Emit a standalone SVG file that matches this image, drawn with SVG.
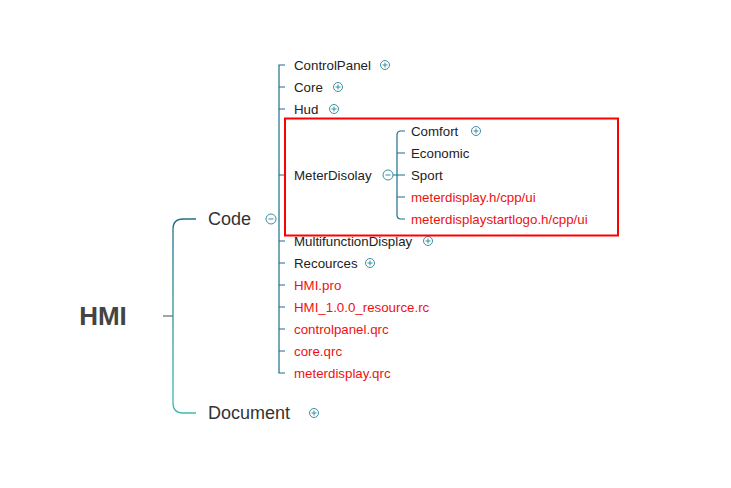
<svg xmlns="http://www.w3.org/2000/svg" width="731" height="488" viewBox="0 0 731 488">
<defs>
<linearGradient id="g" x1="0" y1="0" x2="0" y2="1"><stop offset="0" stop-color="#1d6f8c"/><stop offset="1" stop-color="#3dbdb0"/></linearGradient>
<g id="plus"><circle r="4.5" fill="#fff" stroke="#3a8fa0" stroke-width="1"/><path d="M-2.5 0H2.5M0 -2.5V2.5" stroke="#3a8fa0" stroke-width="1"/></g>
<g id="minus"><circle r="5" fill="#fff" stroke="#3a8fa0" stroke-width="1"/><path d="M-2.5 0H2.5" stroke="#3a8fa0" stroke-width="1"/></g>
</defs>
<style>
text{font-family:"Liberation Sans","Noto Sans",sans-serif;fill:#222;}
.s{font-size:13.3px;}
.r{fill:#ee1111;}
.l{fill:none;stroke:#1d6f8c;stroke-width:1.2;}
</style>
<rect width="731" height="488" fill="#fff"/>
<g id="connectors">
<path d="M163 316H173" stroke="#666" stroke-width="1.2" fill="none"/>
<path d="M196 219H183Q173 219 173 229V403Q173 413 183 413H196" fill="none" stroke="url(#g)" stroke-width="1.3"/>
<path class="l" d="M285 65H279V373H285M279 87H285M279 109H285M279 175H285M279 241H285M279 263H285M279 285H285M279 307H285M279 329H285M279 351H285"/>
<path class="l" d="M393 175H405M405 131H401Q397 131 397 135V215Q397 219 401 219H405M397 153H405M397 197H405"/>
</g>
<g id="hmi"><text x="103" y="325" text-anchor="middle" font-size="26" font-weight="bold" style="fill:#444">HMI</text></g>
<g id="code"><text x="208" y="225" font-size="18" style="fill:#333">Code</text><use href="#minus" x="271" y="219"/></g>
<g id="document"><text x="208" y="419" font-size="18" style="fill:#333">Document</text><use href="#plus" x="314" y="413"/></g>
<g id="controlpanel"><text class="s" x="294" y="70">ControlPanel</text><use href="#plus" x="385" y="65"/></g>
<g id="core"><text class="s" x="294" y="92">Core</text><use href="#plus" x="338" y="87"/></g>
<g id="hud"><text class="s" x="294" y="114">Hud</text><use href="#plus" x="334" y="109"/></g>
<g id="meter"><text class="s" x="294" y="180">MeterDisolay</text><use href="#minus" x="388" y="175"/></g>
<g id="comfort"><text class="s" x="411" y="136">Comfort</text><use href="#plus" x="476" y="131"/></g>
<g id="economic"><text class="s" x="411" y="158">Economic</text></g>
<g id="sport"><text class="s" x="411" y="180">Sport</text></g>
<g id="mdh"><text class="s r" x="411" y="202">meterdisplay.h/cpp/ui</text></g>
<g id="mdsl"><text class="s r" x="411" y="224">meterdisplaystartlogo.h/cpp/ui</text></g>
<g id="multi"><text class="s" x="294" y="246">MultifunctionDisplay</text><use href="#plus" x="428" y="241"/></g>
<g id="rec"><text class="s" x="294" y="268">Recources</text><use href="#plus" x="370" y="263"/></g>
<g id="pro"><text class="s r" x="294" y="290">HMI.pro</text></g>
<g id="rc"><text class="s r" x="294" y="312">HMI_1.0.0_resource.rc</text></g>
<g id="cpq"><text class="s r" x="294" y="334">controlpanel.qrc</text></g>
<g id="coreq"><text class="s r" x="294" y="356">core.qrc</text></g>
<g id="mdq"><text class="s r" x="294" y="378">meterdisplay.qrc</text></g>
<rect id="highlight" x="285" y="118.5" width="333" height="117" fill="none" stroke="#f00" stroke-width="2"/>
</svg>
